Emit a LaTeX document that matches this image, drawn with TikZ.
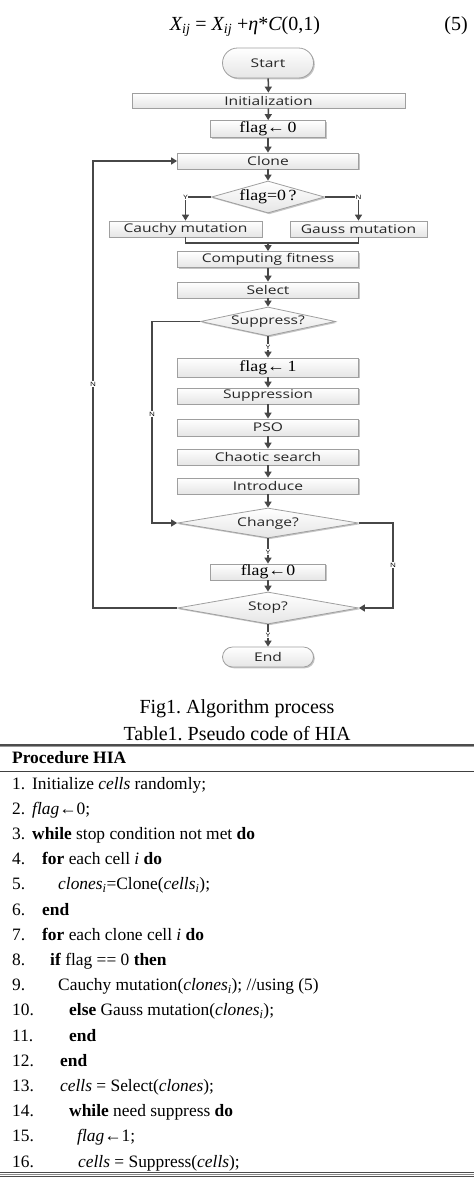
\documentclass[tikz,border=0pt]{standalone}
\usepackage{fontspec}
\setmainfont{Liberation Serif}
\newfontfamily\fcfont[FakeStretch=1.3]{Open Sans}
\newfontfamily\fcserif[FakeStretch=1.15]{Liberation Serif}
\usetikzlibrary{shapes.geometric,shapes.misc,arrows.meta,shadows}
\frenchspacing
\begin{document}
\begin{tikzpicture}[x=1pt,y=-1pt,
  shadedbox/.style={draw=gray!75, line width=0.8pt, top color=white, bottom color=gray!20,
    drop shadow={shadow xshift=1.3pt, shadow yshift=-1.3pt, fill=gray!65, opacity=.7}},
  box/.style={shadedbox, rectangle, inner sep=0pt, text=black!85, font=\fcfont\fontsize{12}{13}\selectfont},
  sbox/.style={shadedbox, rectangle, inner sep=0pt, font=\fcserif\fontsize{15.5}{16}\selectfont},
  dia/.style={shadedbox, diamond, inner sep=0pt},
  term/.style={shadedbox, rounded rectangle, inner sep=0pt, text=black!85, font=\fcfont\fontsize{12}{13}\selectfont},
  dtext/.style={font=\fcfont\fontsize{12}{13}\selectfont, text=black!85, inner sep=0pt},
  dstext/.style={font=\fcserif\fontsize{15.5}{16}\selectfont, inner sep=0pt},
  conline/.style={draw=black!72, line width=1.5pt},
  arr/.style={conline, -{Triangle[length=6pt,width=7pt]}},
  yn/.style={font=\fcfont\fontsize{6}{6}\selectfont, fill=white, inner sep=0.6pt},
  tt/.style={anchor=base west, inner sep=0pt, font=\fontsize{17.4}{20}\selectfont},
  captext/.style={anchor=base, inner sep=0pt, font=\fontsize{20}{24}\selectfont}
]
\useasboundingbox (0,0) rectangle (474,1178);

% equation
\node[captext] (eq) at (245,30) {{\itshape X}\textsubscript{\itshape ij} = {\itshape X}\textsubscript{\itshape ij} +{\itshape η}*{\itshape C}(0,1)};
\node[captext, anchor=base east] (eqn) at (468,30) {(5)};

% flowchart nodes
\node[term, minimum width=91pt, minimum height=30pt] (start) at (268,63) {Start};
\node[box, minimum width=273pt, minimum height=15pt] (init) at (268.5,100.5) {Initialization};
\node[sbox, minimum width=115pt, minimum height=17pt] (flag0a) at (268,129) {flag←\,0};
\node[box, minimum width=181pt, minimum height=16pt] (clone) at (268,161) {Clone};
\node[dia, minimum width=113pt, minimum height=32pt] (d1) at (268,197) {};
\node[dstext] (d1t) at (d1) {flag=0\,?};
\node[box, minimum width=153pt, minimum height=16pt] (cauchy) at (185.5,229) {Cauchy mutation};
\node[box, minimum width=137pt, minimum height=16pt] (gauss) at (358.5,229) {Gauss mutation};
\node[box, minimum width=181pt, minimum height=16pt] (cf) at (268,259.5) {Computing fitness};
\node[box, minimum width=181pt, minimum height=16pt] (select) at (268,290) {Select};
\node[dia, minimum width=135pt, minimum height=29pt] (d2) at (268,321.5) {};
\node[dtext] (d2t) at (d2) {Suppress?};
\node[sbox, minimum width=181pt, minimum height=19pt] (flag1) at (268,367.5) {flag←\,1};
\node[box, minimum width=181pt, minimum height=16pt] (supp) at (268,396) {Suppression};
\node[box, minimum width=181pt, minimum height=17pt] (pso) at (268,427.5) {PSO};
\node[box, minimum width=181pt, minimum height=16pt] (chaos) at (268,457) {Chaotic search};
\node[box, minimum width=181pt, minimum height=16pt] (intro) at (268,486) {Introduce};
\node[dia, minimum width=181pt, minimum height=30pt] (d3) at (268,523) {};
\node[dtext] (d3t) at (d3) {Change?};
\node[sbox, minimum width=115pt, minimum height=16pt] (flag0b) at (268,572) {flag←0};
\node[dia, minimum width=181pt, minimum height=32pt] (d4) at (268,608) {};
\node[dtext] (d4t) at (d4) {Stop?};
\node[term, minimum width=91pt, minimum height=20pt] (end) at (268,657) {End};

\coordinate (lx) at (93,0);
\coordinate (mx) at (152,0);
\coordinate (rx) at (393,0);

% connectors
\draw[arr] (start) -- (init);
\draw[arr] (init) -- (flag0a);
\draw[arr] (flag0a) -- (clone);
\draw[arr] (clone) -- (d1);
\draw[conline] (d1.west) -- (cauchy.north |- d1.west) coordinate (cy);
\draw[arr] (cy) -- (cauchy.north);
\node[yn] (ly1) at (cy) {Y};
\draw[conline] (d1.east) -- (gauss.north |- d1.east) coordinate (gn);
\draw[arr] (gn) -- (gauss.north);
\node[yn] (ln1) at (gn) {N};
\draw[conline] (cauchy.south) -- ++(0,5.5) coordinate (j1) -| (gauss.south);
\draw[arr] (cf.north |- j1) -- (cf.north);
\draw[arr] (cf) -- (select);
\draw[arr] (select) -- (d2);
\draw[arr] (d2.south) -- (flag1.north);
\node[yn] (ly2) at (268,347) {Y};
\draw[arr] (flag1) -- (supp);
\draw[arr] (supp) -- (pso);
\draw[arr] (pso) -- (chaos);
\draw[arr] (chaos) -- (intro);
\draw[arr] (intro) -- (d3.north);
\draw[arr] (d2.west) -- (d2.west -| mx) |- (d3.west);
\node[yn] (ln2) at (152,414) {N};
\draw[arr] (d3.south) -- (flag0b.north);
\node[yn] (ly3) at (268,552) {Y};
\draw[arr] (d3.east) -- (d3.east -| rx) |- (d4.east);
\node[yn] (ln3) at (393,565) {N};
\draw[arr] (flag0b) -- (d4.north);
\draw[arr] (d4.south) -- (end.north);
\node[yn] (ly4) at (268,635) {Y};
\draw[arr] (d4.west) -- (d4.west -| lx) |- (clone.west);
\node[yn] (ln4) at (93,384) {N};

% captions
\node[captext] (fig) at (237,713) {Fig1. Algorithm process};
\node[captext] (tab) at (237,740) {Table1. Pseudo code of HIA};

% table rules
\draw[black!70, line width=2pt] (0,744.5) -- (474,744.5);
\draw[black!40, line width=1pt] (0,746.8) -- (474,746.8);
\draw[black!75, line width=1pt] (0,771) -- (474,771);
\draw[black!70, line width=1.5pt] (0,1172.6) -- (474,1172.6);
\draw[black!45, line width=1pt] (0,1174.6) -- (474,1174.6);
\draw[black!70, line width=1.2pt] (0,1176.4) -- (474,1176.4);

\node[tt] (head) at (12,763) {\textbf{Procedure HIA}};
\node[tt] (n1) at (12,789) {1.};
\node[tt] (t1) at (32,789) {Initialize \textit{cells} randomly;};
\node[tt] (n2) at (12,814.2) {2.};
\node[tt] (t2) at (32,814.2) {\textit{flag}←0;};
\node[tt] (n3) at (12,839.4) {3.};
\node[tt] (t3) at (32,839.4) {\textbf{while} stop condition not met \textbf{do}};
\node[tt] (n4) at (12,864.6) {4.};
\node[tt] (t4) at (42,864.6) {\textbf{for} each cell \textit{i} \textbf{do}};
\node[tt] (n5) at (12,889.8) {5.};
\node[tt] (t5) at (58,889.8) {\textit{clones}\textsubscript{\textit{i}}=Clone(\textit{cells}\textsubscript{\textit{i}});};
\node[tt] (n6) at (12,915) {6.};
\node[tt] (t6) at (42,915) {\textbf{end}};
\node[tt] (n7) at (12,940.2) {7.};
\node[tt] (t7) at (42,940.2) {\textbf{for} each clone cell \textit{i} \textbf{do}};
\node[tt] (n8) at (12,965.4) {8.};
\node[tt] (t8) at (50,965.4) {\textbf{if} flag == 0 \textbf{then}};
\node[tt] (n9) at (12,990.6) {9.};
\node[tt] (t9) at (58,990.6) {Cauchy mutation(\textit{clones}\textsubscript{\textit{i}}); //using (5)};
\node[tt] (n10) at (12,1015.8) {10.};
\node[tt] (t10) at (69,1015.8) {\textbf{else} Gauss mutation(\textit{clones}\textsubscript{\textit{i}});};
\node[tt] (n11) at (12,1041) {11.};
\node[tt] (t11) at (69,1041) {\textbf{end}};
\node[tt] (n12) at (12,1066.2) {12.};
\node[tt] (t12) at (60,1066.2) {\textbf{end}};
\node[tt] (n13) at (12,1091.4) {13.};
\node[tt] (t13) at (60,1091.4) {\textit{cells} = Select(\textit{clones});};
\node[tt] (n14) at (12,1116.6) {14.};
\node[tt] (t14) at (69,1116.6) {\textbf{while} need suppress \textbf{do}};
\node[tt] (n15) at (12,1141.8) {15.};
\node[tt] (t15) at (77,1141.8) {\textit{flag}←1;};
\node[tt] (n16) at (12,1167) {16.};
\node[tt] (t16) at (78,1167) {\textit{cells} = Suppress(\textit{cells});};
\end{tikzpicture}
\end{document}
